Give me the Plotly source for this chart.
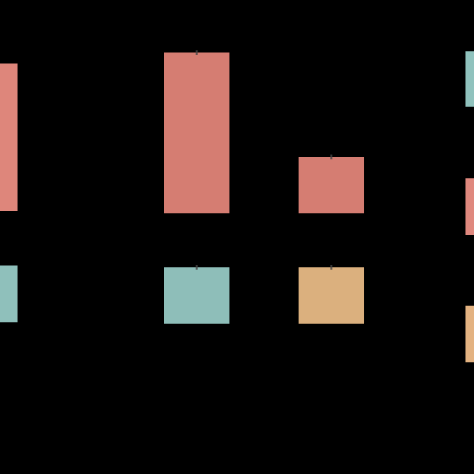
import plotly.graph_objects as go

# Позиции столбцов (центры) и значения для каждой серии
red_x = [-0.32, 4.15, 6.99, 10.51]
red_base = [5.55, 5.50, 5.50, 5.04]
red_height = [3.11, 3.39, 1.19, 1.20]
red_colors = ['#de867b', '#d57d72', '#d57d72', '#df887e']

teal_x = [-0.32, 4.15, 10.51]
teal_base = [3.20, 3.17, 7.75]
teal_height = [1.20, 1.19, 1.17]
teal_colors = ['#8fc0bb', '#8ebeb9', '#90c2bd']

orange_x = [6.99, 10.51]
orange_base = [3.17, 2.36]
orange_height = [1.19, 1.19]
orange_colors = ['#dbb07e', '#e3b281']

err = 0.05
bar_width = 1.38


def add_series(fig, x, base, height, colors):
    fig.add_trace(go.Bar(x=x, y=height, base=base, width=bar_width,
                         marker=dict(color=colors, line=dict(width=0)),
                         error_y=dict(type='constant', value=err, color='rgba(70,70,70,0.8)',
                                      thickness=2, width=0),
                         showlegend=False))


fig = go.Figure()
add_series(fig, red_x, red_base, red_height, red_colors)
add_series(fig, teal_x, teal_base, teal_height, teal_colors)
add_series(fig, orange_x, orange_base, orange_height, orange_colors)

fig.update_layout(width=474, height=474,
                  margin=dict(l=0, r=0, t=0, b=0),
                  paper_bgcolor='black', plot_bgcolor='black',
                  barmode='overlay', showlegend=False)
fig.update_xaxes(range=[0, 10], visible=False)
fig.update_yaxes(range=[0, 10], visible=False)

# убираем отступ страницы, чтобы график занял всё окно
fig.write_html("out.html",
               config={'displayModeBar': False},
               post_script="document.body.style.margin='0';"
                           "document.body.style.background='black';"
                           "document.body.style.overflow='hidden';")
